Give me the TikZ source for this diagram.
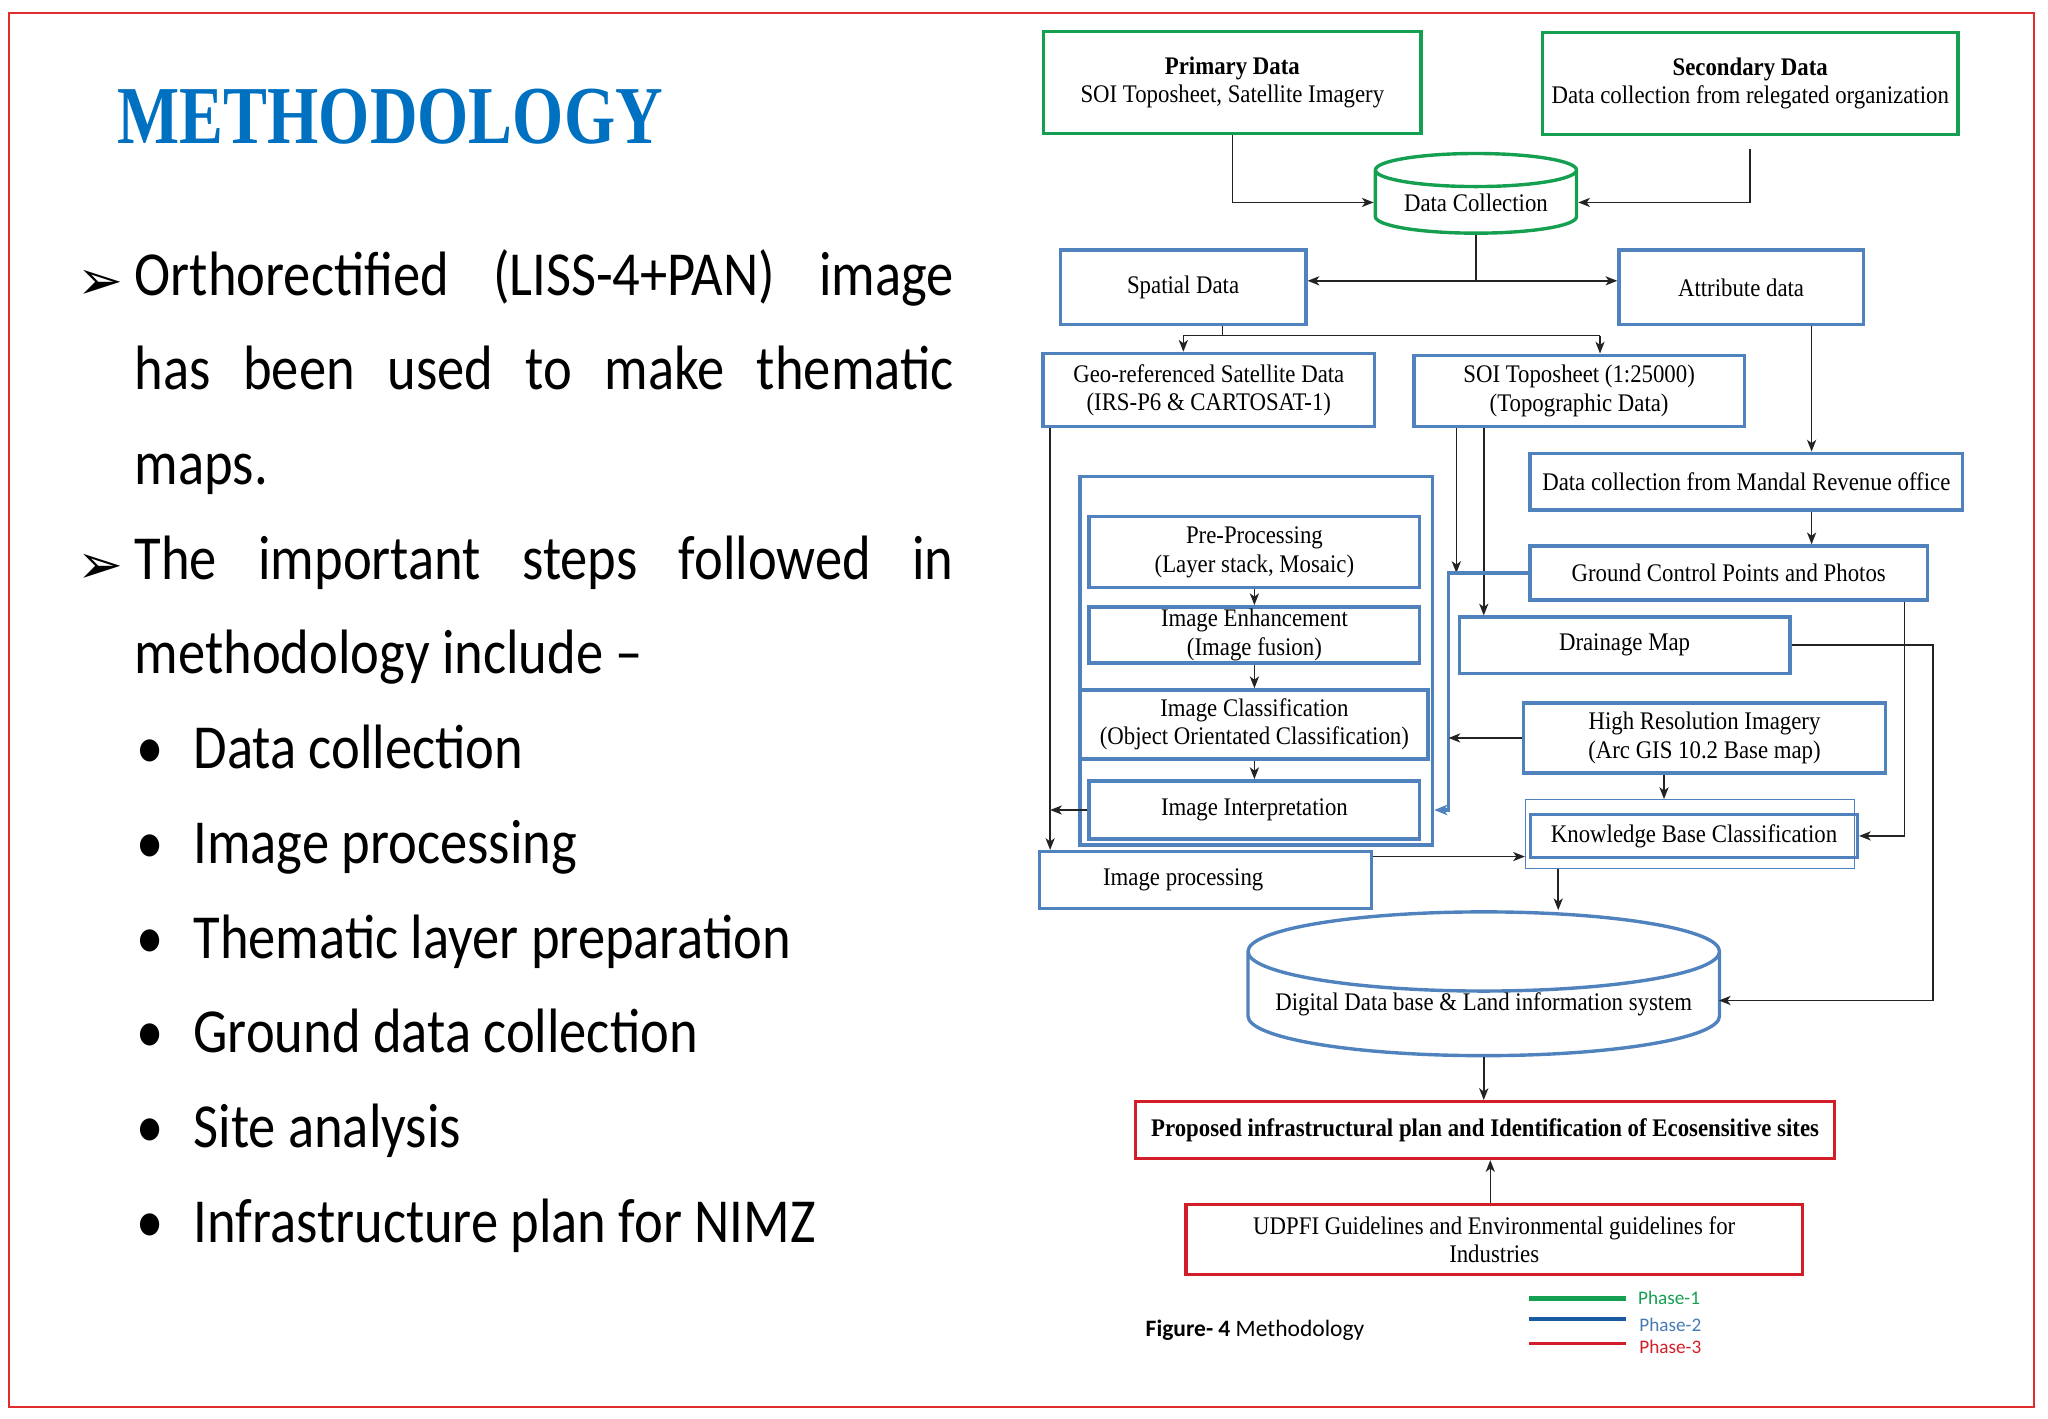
\documentclass[tikz,border=0pt]{standalone}
\usepackage{fontspec}
\setmainfont{Liberation Serif}
\newfontfamily\diafont[FakeStretch=0.9]{Liberation Serif}
\newfontfamily\slidefont[FakeStretch=0.87]{Carlito}
\newfontfamily\capfont{Carlito}
\newfontfamily\titlefont[FakeStretch=0.8]{Liberation Serif}
\newfontfamily\symfont{DejaVu Sans}
\usepackage{tikz}
\usetikzlibrary{positioning, arrows.meta, shapes.geometric}

\definecolor{phaseGreen}{RGB}{20,160,80}
\definecolor{phaseBlue}{RGB}{80,130,190}
\definecolor{phaseRed}{RGB}{210,30,40}
\definecolor{legendBlue}{RGB}{25,90,160}
\definecolor{titleBlue}{RGB}{0,112,192}
\definecolor{frameRed}{RGB}{225,45,45}
\definecolor{wireGray}{RGB}{35,35,35}

\begin{document}
\begin{tikzpicture}[
        x=1pt, y=-1pt, % image-like coordinates, y grows downwards
        font=\diafont\fontsize{19.4}{21.7}\selectfont,
        flowbox/.style={
            rectangle,
            line width=2.6pt,
            inner sep=0pt,
            align=center
        },
        greenbox/.style={flowbox, draw=phaseGreen},
        bluebox/.style={flowbox, draw=phaseBlue},
        redbox/.style={flowbox, draw=phaseRed},
        datacan/.style={cylinder, shape border rotate=90, line width=2.6pt, inner sep=0pt},
        wire/.style={draw=wireGray, line width=1.2pt},
        line/.style={wire, -{Stealth[length=9pt, width=7pt, inset=2.5pt]}},
        blueline/.style={draw=phaseBlue, line width=2.4pt, -{Stealth[length=10pt, width=8pt, inset=2.5pt]}},
        slidetext/.style={anchor=base west, inner sep=0pt, font=\slidefont\fontsize{48}{48}\selectfont},
        legendtext/.style={anchor=west, inner sep=0pt, font=\capfont\fontsize{14.7}{14.7}\selectfont}
    ]
        \useasboundingbox (0,0) rectangle (1568,1086);
        \draw [frameRed, line width=1.5pt] (7,10) rectangle (1557,1077);

        % Slide text
        \node [anchor=base west, inner sep=0pt, text=titleBlue, font=\titlefont\bfseries\fontsize{63}{63}\selectfont] (title) at (90,110) {METHODOLOGY};

        \node [slidetext] (orthoA) at (59,226) {\makebox[44pt][l]{\raisebox{-3pt}{\symfont\fontsize{42}{42}\selectfont ➢}}\makebox[627pt][s]{Orthorectified (LISS-4+PAN) image}};
        \node [slidetext] (orthoB) at (103,298.5) {\makebox[627pt][s]{has been used to make thematic}};
        \node [slidetext] (orthoC) at (103,371) {maps.};
        \node [slidetext] (stepsA) at (59,443.5) {\makebox[44pt][l]{\raisebox{-3pt}{\symfont\fontsize{42}{42}\selectfont ➢}}\makebox[627pt][s]{The important steps followed in}};
        \node [slidetext] (stepsB) at (103,516) {methodology include –};

        \node [slidetext] (itemData) at (104,588.5) {\makebox[44pt][l]{•}Data collection};
        \node [slidetext] (itemImage) at (104,661) {\makebox[44pt][l]{•}Image processing};
        \node [slidetext] (itemLayer) at (104,733.5) {\makebox[44pt][l]{•}Thematic layer preparation};
        \node [slidetext] (itemGround) at (104,806) {\makebox[44pt][l]{•}Ground data collection};
        \node [slidetext] (itemSite) at (104,878.5) {\makebox[44pt][l]{•}Site analysis};
        \node [slidetext] (itemPlan) at (104,951) {\makebox[44pt][l]{•}Infrastructure plan for NIMZ};

        % Phase-1 nodes
        \node [greenbox, minimum width=289pt, minimum height=78pt] (primary) at (943.5,63) {\textbf{Primary Data}\\SOI Toposheet, Satellite Imagery};
        \node [greenbox, minimum width=318pt, minimum height=78pt] (secondary) at (1340,64) {\textbf{Secondary Data}\\Data collection from relegated organization};
        \node [datacan, draw=phaseGreen, aspect=0.23, minimum width=154pt, minimum height=61pt] (dataColl) at (1130,155) {Data Collection};

        % Phase-2 nodes
        \node [bluebox, minimum width=188pt, minimum height=57pt] (spatial) at (905.8,220) {Spatial Data};
        \node [bluebox, minimum width=187pt, minimum height=57pt] (attribute) at (1333,220) {Attribute data};
        \node [bluebox, minimum width=254pt, minimum height=56pt] (geo) at (925.5,298.6) {Geo-referenced Satellite Data\\(IRS-P6 \& CARTOSAT-1)};
        \node [bluebox, minimum width=253pt, minimum height=54.7pt] (soi) at (1209,299.3) {SOI Toposheet (1:25000)\\(Topographic Data)};
        \node [bluebox, minimum width=331pt, minimum height=43.5pt] (mandal) at (1337,368.8) {Data collection from Mandal Revenue office};
        \node [bluebox, minimum width=304pt, minimum height=41.4pt] (gcp) at (1323.5,438.7) {Ground Control Points and Photos};

        \node [bluebox, minimum width=270pt, minimum height=282pt] (procGroup) at (961.8,506) {};
        \node [bluebox, minimum width=253pt, minimum height=54.4pt] (pre) at (960.4,422.8) {Pre-Processing\\(Layer stack, Mosaic)};
        \node [bluebox, minimum width=253pt, minimum height=43pt, below=12pt of pre] (enh) {Image Enhancement\\(Image fusion)};
        \node [bluebox, minimum width=266pt, minimum height=53pt, below=18pt of enh] (cls) {Image Classification\\(Object Orientated Classification)};
        \node [bluebox, minimum width=253pt, minimum height=44.7pt, below=14pt of cls] (interp) {Image Interpretation};
        \node [bluebox, minimum width=254pt, minimum height=43.5pt] (imgproc) at (922.9,673.8) {\hspace*{-34pt}Image processing};

        \node [bluebox, minimum width=253pt, minimum height=43pt] (drain) at (1243.8,494) {Drainage Map};
        \node [bluebox, minimum width=277pt, minimum height=53.5pt] (hri) at (1305,565) {High Resolution Imagery\\(Arc GIS 10.2 Base map)};
        \node [flowbox, draw=phaseBlue, line width=1pt, minimum width=252pt, minimum height=52.5pt] (kbcOuter) at (1294,638.5) {};
        \node [bluebox, minimum width=250pt, minimum height=33pt] (kbc) at (1297,640) {Knowledge Base Classification};

        \node [datacan, draw=phaseBlue, aspect=0.19, minimum width=361pt, minimum height=92pt] (db) at (1136,769) {Digital Data base \& Land information system};

        % Phase-3 nodes
        \node [redbox, minimum width=535pt, minimum height=43.4pt] (proposed) at (1137,865.2) {\textbf{Proposed infrastructural plan and Identification of Ecosensitive sites}};
        \node [redbox, minimum width=472pt, minimum height=54pt] (udpfi) at (1144,949) {UDPFI Guidelines and Environmental guidelines for\\Industries};

        % Bend points
        \coordinate (dcSplit) at (1130,215);
        \coordinate (spSplit) at (936,257);
        \coordinate (geoIn) at (906,257);
        \coordinate (soiIn) at (1225,257);
        \coordinate (attrCol) at (1387,0);
        \coordinate (leftCol) at (804,0);
        \coordinate (soiColA) at (1115,0);
        \coordinate (soiColB) at (1136,0);
        \coordinate (blueCol) at (1109,0);
        \coordinate (kbcCol) at (1274,0);
        \coordinate (gcpCol) at (1458,0);
        \coordinate (drainCol) at (1480,0);
        \coordinate (dbCol) at (1193,0);
        \coordinate (udpCol) at (1141,0);
        \coordinate (dbIn) at (1316,766);

        % Paths
        \path [line] (primary.south) |- (dataColl.west);
        \path [line] ([yshift=-10pt]secondary.south) |- (dataColl.east);
        \path [wire] (dataColl.south) -- (dcSplit);
        \path [line] (dcSplit) -- (dcSplit -| spatial.east);
        \path [line] (dcSplit) -- (dcSplit -| attribute.west);

        \path [wire] (spatial.south -| spSplit) -- (spSplit);
        \path [wire] (geoIn) -- (soiIn);
        \path [line] (geoIn) -- (geoIn |- geo.north);
        \path [line] (soiIn) -- (soiIn |- soi.north);

        \path [line] (attribute.south -| attrCol) -- (mandal.north -| attrCol);
        \path [line] (mandal.south -| attrCol) -- (gcp.north -| attrCol);

        \path [line] (geo.south -| leftCol) -- (imgproc.north -| leftCol);
        \path [line] (interp.west) -- (interp.west -| leftCol);

        \path [line] (pre) -- (enh);
        \path [line] (enh) -- (cls);
        \path [line] (cls) -- (interp);

        \path [line] (soi.south -| soiColA) -- (gcp.west -| soiColA);
        \path [line] (soi.south -| soiColB) -- (drain.north -| soiColB);

        % Blue feedback from the ground truth
        \path [blueline] (gcp.west) -- (gcp.west -| blueCol) -- (interp.east -| blueCol) -- (interp.east -| procGroup.east);
        \path [line] (hri.west) -- (hri.west -| blueCol);

        \path [line] (hri.south -| kbcCol) -- (kbcOuter.north -| kbcCol);
        \path [line] (gcp.south -| gcpCol) |- (kbc.east);
        \path [line] ([yshift=18pt]imgproc.east) -- ([yshift=18pt]imgproc.east -| kbcOuter.west);
        \path [line] (drain.east) -- (drain.east -| drainCol) |- (dbIn);
        \path [line] (kbcOuter.south -| dbCol) -- (db.north -| dbCol);
        \path [line] (db.south) -- (db.south |- proposed.north);
        \path [line] (udpfi.north -| udpCol) -- (proposed.south -| udpCol);

        % Caption and legend
        \node [anchor=base west, inner sep=0pt, font=\capfont\fontsize{18}{18}\selectfont] (caption) at (877,1023) {\textbf{Figure- 4} Methodology};
        \node [legendtext, text=phaseGreen] (phaseOne) at (1254,994) {Phase-1};
        \node [legendtext, text=legendBlue!80] (phaseTwo) at (1255,1014) {Phase-2};
        \node [legendtext, text=phaseRed] (phaseThree) at (1255,1031) {Phase-3};
        \draw [phaseGreen, line width=3.5pt] ([xshift=-9pt]phaseOne.west) -- ++(-74,0);
        \draw [legendBlue, line width=3.5pt] ([xshift=-10pt, yshift=4pt]phaseTwo.west) -- ++(-74,0);
        \draw [phaseRed, line width=2.5pt] ([xshift=-10pt, yshift=2.5pt]phaseThree.west) -- ++(-74,0);
    \end{tikzpicture}
\end{document}
